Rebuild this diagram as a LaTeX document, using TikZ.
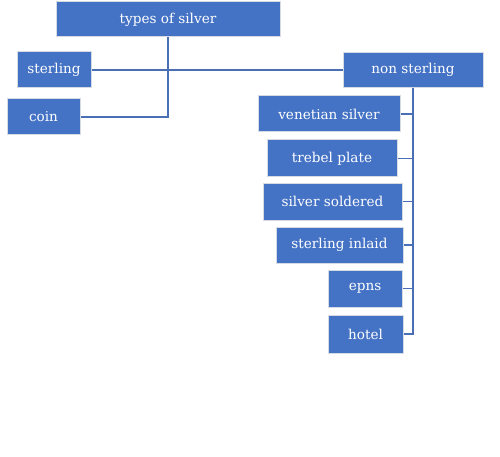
\documentclass[tikz,border=0pt]{standalone}
\usepackage{fontspec}
\setmainfont{DejaVu Serif}
\usetikzlibrary{positioning}
\usepackage{xcolor}
\definecolor{boxblue}{RGB}{68,114,196}
\definecolor{linkblue}{RGB}{74,111,181}
\definecolor{rim}{RGB}{214,218,226}

\begin{document}
\begin{tikzpicture}[
    x=1pt, y=-1pt,
    item/.style={rectangle, fill=boxblue, draw=rim, line width=1pt, text=white, font=\fontsize{13.6}{16}\selectfont, inner sep=0pt, minimum height=36pt},
    link/.style={linkblue, line width=1.3pt},
]
\useasboundingbox (0,0) rectangle (500,457);

\node[item, minimum width=224pt, minimum height=35pt] (types) at (168,19.5) {types of silver};

\node[item, minimum width=74pt] (sterling) at (54,70) {sterling};
\node[item, minimum width=73pt] (coin) at (43.5,117) {coin};
\node[item, minimum width=140pt, minimum height=35pt] (nonsterling) at (413,70) {non sterling};

\node[item, minimum width=142pt] (venetian) at (329,114) {venetian silver};
\node[item, minimum width=130pt, minimum height=37pt] (trebel) at (332,158.5) {trebel plate};
\node[item, minimum width=139pt, minimum height=37pt] (soldered) at (332.5,201.5) {silver soldered};
\node[item, minimum width=127pt] (inlaid) at (339.5,245) {sterling inlaid};
\node[item, minimum width=74pt, minimum height=37pt] (epns) at (365,288.5) {epns};
\node[item, minimum width=75pt, minimum height=38pt] (hotel) at (365.5,334) {hotel};

\draw[link] (types.south) |- (coin.east);
\draw[link] (sterling.east) -- (nonsterling.west);
\foreach \kind in {venetian, trebel, soldered, inlaid, epns, hotel}
    \draw[link] (nonsterling.south) |- (\kind.east);

\end{tikzpicture}
\end{document}
